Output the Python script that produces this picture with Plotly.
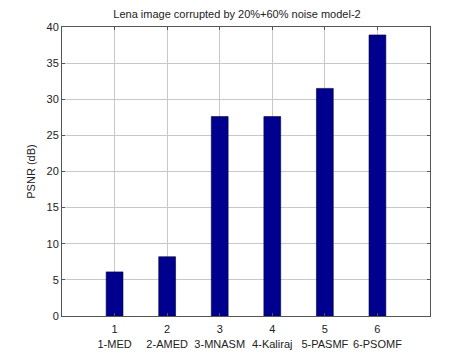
import plotly.graph_objects as go

positions = [1, 2, 3, 4, 5, 6]
methods = ["1-MED", "2-AMED", "3-MNASM", "4-Kaliraj", "5-PASMF", "6-PSOMF"]
psnr = [6.1, 8.2, 27.6, 27.6, 31.5, 38.9]
y_ticks = [0, 5, 10, 15, 20, 25, 30, 35, 40]

tick_text = [f"{p}<br>{m}" for p, m in zip(positions, methods)]

fig = go.Figure()
fig.add_trace(go.Bar(
    x=positions, y=psnr, width=0.32,
    marker=dict(color="#00008F", line=dict(color="#000033", width=0.6)),
))

axis_common = dict(
    showline=True, linecolor="#555555", linewidth=1, mirror="ticks",
    ticks="inside", ticklen=3, tickcolor="#555555",
    showgrid=True, gridcolor="#c8c8c8", gridwidth=1, zeroline=False,
    automargin=False,
    tickfont=dict(family="Liberation Sans, Arial", size=11, color="#222222"),
)

fig.update_layout(
    width=474, height=355, autosize=False,
    margin=dict(l=62, r=44, t=27, b=39),
    paper_bgcolor="white", plot_bgcolor="white",
    showlegend=False,
    title=dict(text="Lena image corrupted by 20%+60% noise model-2",
               x=0.5, xanchor="center", y=0.96, yanchor="middle",
               font=dict(family="Liberation Sans, Arial", size=11, color="#222222")),
    xaxis=dict(range=[0, 7], tickvals=positions, ticktext=tick_text,
               ticklabelstandoff=3, **axis_common),
    yaxis=dict(range=[0, 40], tickvals=y_ticks, title=dict(text="PSNR (dB)", standoff=8,
               font=dict(family="Liberation Sans, Arial", size=11, color="#222222")),
               **axis_common),
)

fig.write_html("out.html")
